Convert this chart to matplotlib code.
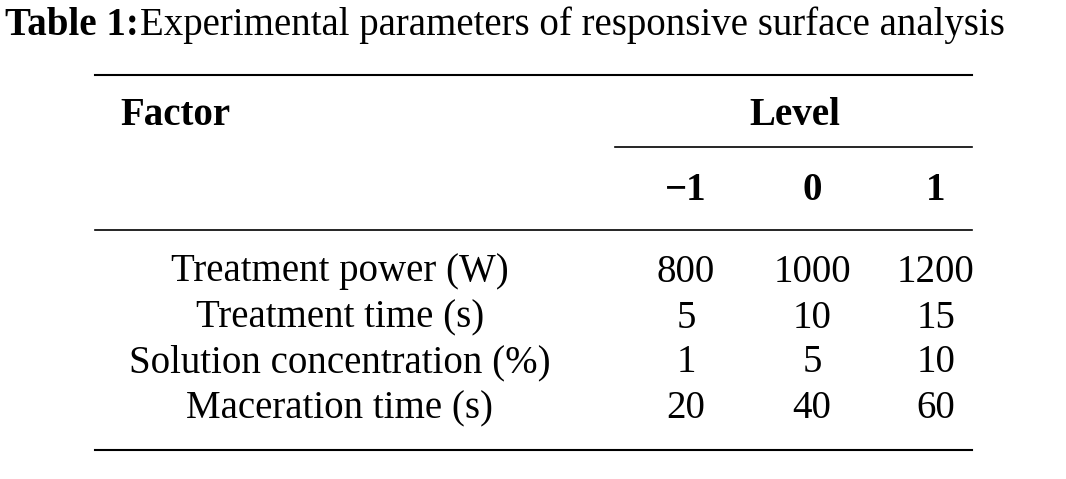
import matplotlib
matplotlib.use("Agg")
from matplotlib import pyplot as plt

plt.rcParams['font.family'] = ['Liberation Serif', 'DejaVu Serif']

factors = ['Treatment power (W)', 'Treatment time (s)',
           'Solution concentration (%)', 'Maceration time (s)']
levels = ['\u22121', '0', '1']
values = [['800', '1000', '1200'],
          ['5', '10', '15'],
          ['1', '5', '10'],
          ['20', '40', '60']]

fig = plt.figure(figsize=(10.66, 4.79), dpi=100)
ax = fig.add_axes([0, 0, 1, 1])
ax.set_xlim(0, 1066)
ax.set_ylim(479, 0)
ax.axis('off')

fs = 28
ax.text(5, 25, 'Table 1:', fontsize=fs, fontweight='bold', va='center')
ax.text(140, 25, 'Experimental parameters of responsive surface analysis',
        fontsize=fs, va='center')

x0, x1 = 95, 972
col_x = [686, 812, 936]
ax.plot([x0, x1], [75, 75], color='black', lw=1.5)
ax.plot([615, x1], [147, 147], color='black', lw=1.2)
ax.plot([x0, x1], [230, 230], color='black', lw=1.2)
ax.plot([x0, x1], [450, 450], color='black', lw=1.5)

ax.text(120, 115, 'Factor', fontsize=fs, fontweight='bold', va='center')
ax.text(795, 115, 'Level', fontsize=fs, fontweight='bold', va='center', ha='center')
for x, lv in zip(col_x, levels):
    ax.text(x, 190, lv, fontsize=fs, fontweight='bold', va='center', ha='center')

row_y = [272, 318, 363, 409]
for y, f, vals in zip(row_y, factors, values):
    ax.text(340, y, f, fontsize=fs, va='center', ha='center')
    for x, v in zip(col_x, vals):
        ax.text(x, y, v, fontsize=fs, va='center', ha='center')

fig.savefig('out.png', dpi=100)
